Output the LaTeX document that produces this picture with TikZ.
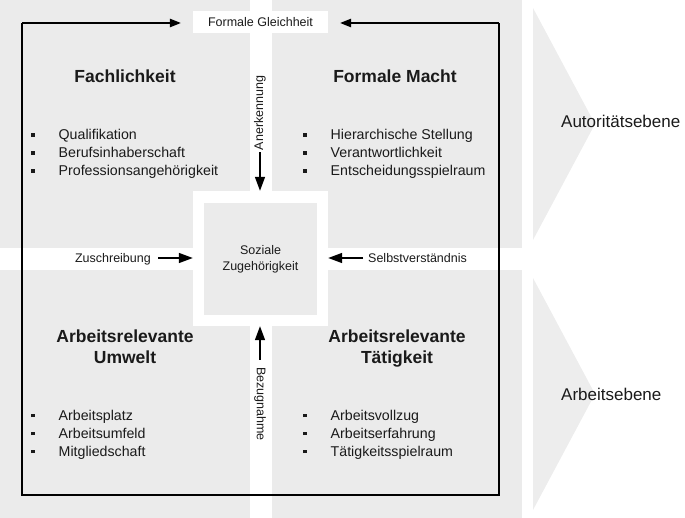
\documentclass[tikz,border=0pt]{standalone}
\usepackage{fontspec}
\setmainfont{Liberation Sans}
\usetikzlibrary{arrows.meta}
\definecolor{qgrey}{HTML}{EBEBEB}
\definecolor{tgrey}{HTML}{EDEDED}
\definecolor{txt}{HTML}{1A1A1A}
\newcommand{\bitem}[1]{\makebox[27.5pt][l]{\rule[3pt]{3.5pt}{3.5pt}}#1}
\begin{document}
\begin{tikzpicture}[x=1pt,y=-1pt,
  small/.style={font=\fontsize{12.5}{16}\selectfont, text=txt, inner sep=0pt},
  title/.style={font=\fontsize{17.5}{21}\selectfont\bfseries, text=txt, inner sep=0pt, anchor=base},
  item/.style={font=\fontsize{14.2}{18}\selectfont, text=txt, inner sep=0pt, anchor=base west},
  level/.style={font=\fontsize{17}{20}\selectfont, text=txt, inner sep=0pt, anchor=base west},
  arr/.style={line width=1.5pt, -{Triangle[length=14pt,width=10pt]}},
  frame/.style={line width=1.2pt},
  fhead/.style={-{Triangle[length=11pt,width=8.5pt]}}
]
\useasboundingbox (0,0) rectangle (685,518);
% quadrants
\fill[qgrey] (0,0) rectangle (250,248);
\fill[qgrey] (272,0) rectangle (522,248);
\fill[qgrey] (0,270) rectangle (250,518);
\fill[qgrey] (272,270) rectangle (522,518);
% level arrows
\fill[tgrey] (533,8) -- (595,124) -- (533,240) -- cycle;
\fill[tgrey] (533,278) -- (595,394) -- (533,510) -- cycle;
% centre
\node[fill=white, minimum width=135pt, minimum height=135pt, inner sep=0pt] (outer) at (260.5,258.5) {};
\node[small, fill=qgrey, minimum width=113pt, minimum height=112pt, align=center] (sz) at (260.5,259) {Soziale\\Zugehörigkeit};
% top label
\node[small, fill=white, minimum width=135pt, minimum height=22pt] (fg) at (260.5,22) {Formale Gleichheit};
% frame
\coordinate (tl) at (22,23);
\coordinate (tr) at (499,23);
\coordinate (bl) at (22,495);
\coordinate (br) at (499,495);
\draw[frame] (tl) -- (bl) -- (br) -- (tr);
\draw[frame, fhead, shorten >=12pt] (tl) -- (fg.west |- tl);
\draw[frame, fhead, shorten >=12pt] (tr) -- (fg.east |- tr);
% connectors to centre
\node[small, rotate=90] (anerk) at (260,113) {Anerkennung};
\draw[arr, shorten <=2pt] (anerk.west) -- (anerk.west |- outer.north);
\node[small, rotate=-90] (bez) at (260,404) {Bezugnahme};
\draw[arr, shorten <=7pt] (bez.west) -- (bez.west |- outer.south);
\node[small, anchor=base east] (zu) at (151,263) {Zuschreibung};
\coordinate (zuA) at (158,258);
\draw[arr] (zuA) -- (zuA -| outer.west);
\node[small, anchor=base west] (sv) at (368,263) {Selbstverständnis};
\coordinate (svA) at (363,258);
\draw[arr] (svA) -- (svA -| outer.east);
% titles
\node[title] (fach) at (125,83) {Fachlichkeit};
\node[title] (fm) at (395,83) {Formale Macht};
\node[title] (aru1) at (125,342) {Arbeitsrelevante};
\node[title] (aru2) at (125,363) {Umwelt};
\node[title] (art1) at (397,342) {Arbeitsrelevante};
\node[title] (art2) at (397,363) {Tätigkeit};
% lists
\foreach \t [count=\i] in {Qualifikation,Berufsinhaberschaft,Professionsangehörigkeit}
  \node[item] (a\i) at (31,122+18*\i) {\bitem{\t}};
\foreach \t [count=\i] in {Hierarchische Stellung,Verantwortlichkeit,Entscheidungsspielraum}
  \node[item] (b\i) at (303,122+18*\i) {\bitem{\t}};
\foreach \t [count=\i] in {Arbeitsplatz,Arbeitsumfeld,Mitgliedschaft}
  \node[item] (c\i) at (31,402+18*\i) {\bitem{\t}};
\foreach \t [count=\i] in {Arbeitsvollzug,Arbeitserfahrung,Tätigkeitsspielraum}
  \node[item] (d\i) at (303,402+18*\i) {\bitem{\t}};
% level labels
\node[level] (auto) at (561,128) {Autoritätsebene};
\node[level] (arb) at (561,400) {Arbeitsebene};
\end{tikzpicture}
\end{document}
